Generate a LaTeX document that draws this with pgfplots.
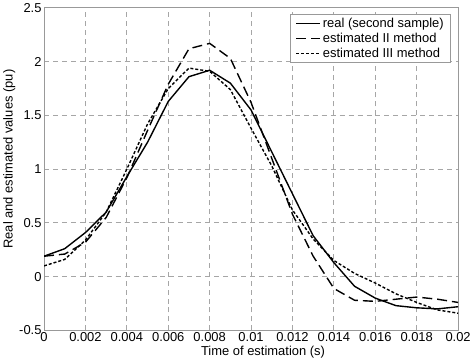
\documentclass[border=0pt]{standalone}
\usepackage{fontspec}
\setmainfont{Liberation Sans}
\usepackage{pgfplots}
\pgfplotsset{compat=1.18}
\begin{document}
\begin{tikzpicture}[x=1pt,y=1pt]
\begin{axis}[
  scale only axis, width=416pt, height=324pt,
  xmin=0, xmax=0.02, ymin=-0.5, ymax=2.5,
  xtick={0,0.002,0.004,0.006,0.008,0.01,0.012,0.014,0.016,0.018,0.02},
  xticklabels={0,0.002,0.004,0.006,0.008,0.01,0.012,0.014,0.016,0.018,0.02},
  ytick={-0.5,0,0.5,1,1.5,2,2.5},
  yticklabels={-0.5,0,0.5,1,1.5,2,2.5},
  scaled x ticks=false,
  tick label style={font=\fontsize{13}{15}\selectfont, black},
  xticklabel style={yshift=1pt},
  yticklabel style={xshift=1pt},
  label style={font=\fontsize{13}{15}\selectfont},
  xlabel={Time of estimation (s)}, ylabel={Real and estimated values (pu)},
  xlabel style={yshift=3pt, xshift=12pt}, ylabel style={yshift=-3pt, xshift=10pt},
  grid=major, major grid style={gray!70, dash pattern=on 5pt off 4pt, line width=0.8pt},
  axis line style={gray!80, line width=0.8pt},
  tick style={draw=none},
  legend style={at={(0.983,0.982)}, anchor=north east, draw=gray!80, line width=0.8pt, font=\fontsize{13}{15}\selectfont, row sep=0pt, inner xsep=5pt, inner ysep=2pt},
  legend image code/.code={\draw[#1] (0pt,0pt) -- (24pt,0pt);},
  legend image post style={line width=1.4pt},
  legend cell align=left,
]
\addplot[black, solid, no marks, line width=1.4pt] coordinates {(0,0.19)(0.001,0.26)(0.002,0.41)(0.003,0.60)(0.004,0.93)(0.005,1.25)(0.006,1.63)(0.007,1.86)(0.008,1.92)(0.009,1.80)(0.010,1.55)(0.011,1.16)(0.012,0.77)(0.013,0.38)(0.014,0.13)(0.015,-0.09)(0.016,-0.20)(0.017,-0.27)(0.018,-0.29)(0.019,-0.30)(0.020,-0.28)};
\addlegendentry{real (second sample)}
\addplot[black, no marks, line width=1.4pt, dash pattern=on 10pt off 5pt] coordinates {(0,0.19)(0.001,0.21)(0.002,0.32)(0.003,0.55)(0.004,0.92)(0.005,1.36)(0.006,1.79)(0.007,2.12)(0.008,2.17)(0.009,2.03)(0.010,1.62)(0.011,1.10)(0.012,0.58)(0.013,0.19)(0.014,-0.11)(0.015,-0.22)(0.016,-0.23)(0.017,-0.21)(0.018,-0.19)(0.019,-0.21)(0.020,-0.24)};
\addlegendentry{estimated II method}
\addplot[black, no marks, line width=1.4pt, dash pattern=on 3pt off 2pt] coordinates {(0,0.10)(0.001,0.16)(0.002,0.34)(0.003,0.60)(0.004,1.00)(0.005,1.42)(0.006,1.75)(0.007,1.94)(0.008,1.91)(0.009,1.74)(0.010,1.38)(0.011,1.03)(0.012,0.62)(0.013,0.35)(0.014,0.15)(0.015,0.03)(0.016,-0.06)(0.017,-0.16)(0.018,-0.24)(0.019,-0.31)(0.020,-0.34)};
\addlegendentry{estimated III method}
\end{axis}
\end{tikzpicture}
\end{document}
